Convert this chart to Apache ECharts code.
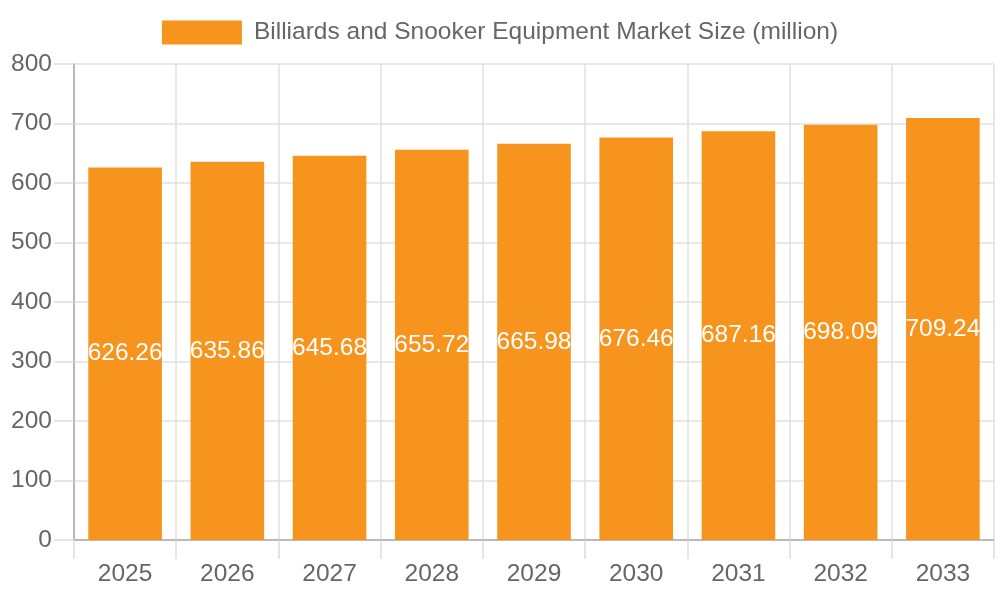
<!DOCTYPE html>
<html><head><meta charset="utf-8">
<script src="https://cdn.jsdelivr.net/npm/echarts@6/dist/echarts.min.js"></script>
<style>html,body{margin:0;padding:0;background:#fff}#c{width:1000px;height:600px}</style>
</head><body><div id="c"></div>
<script>
const categories = ['2025','2026','2027','2028','2029','2030','2031','2032','2033'];
const values = [626.26, 635.86, 645.68, 655.72, 665.98, 676.46, 687.16, 698.09, 709.24];
const seriesName = 'Billiards and Snooker Equipment Market Size (million)';
const chart = echarts.init(document.getElementById('c'));
const font = '"Liberation Sans", Arial, sans-serif';
chart.setOption({
  animation: false,
  textStyle: { fontFamily: font },
  legend: {
    top: 15, left: 'center', itemWidth: 80, itemHeight: 24, itemGap: 10,
    icon: 'rect',
    textStyle: { fontSize: 24.5, color: '#666', fontFamily: font, padding: [0,0,0,7] },
    data: [seriesName]
  },
  grid: { left: 74, right: 6, top: 64, bottom: 60, containLabel: false },
  xAxis: {
    type: 'category', data: categories,
    axisLine: { show: true, lineStyle: { color: '#aaa', width: 1.5 } },
    axisTick: { show: true, interval: 0, length: 19, lineStyle: { color: '#ddd', width: 1.5 } },
    splitLine: { show: true, interval: 0, lineStyle: { color: '#e0e0e0', width: 1.5 } },
    axisLabel: { fontSize: 24.5, color: '#666', margin: 22, fontFamily: font }
  },
  yAxis: {
    type: 'value', min: 0, max: 800, interval: 100,
    axisLine: { show: true, lineStyle: { color: '#aaa', width: 1.5 } },
    axisTick: { show: true, length: 20, lineStyle: { color: '#ddd', width: 1.5 } },
    splitLine: { show: true, lineStyle: { color: '#e0e0e0', width: 1.5 } },
    axisLabel: { fontSize: 24.5, color: '#666', margin: 22, fontFamily: font }
  },
  series: [{
    name: seriesName, type: 'bar', data: values,
    barCategoryGap: '28%',
    itemStyle: { color: '#F7941E' },
    label: { show: true, position: 'inside', color: '#fff', fontSize: 24.5, fontFamily: font,
      formatter: p => p.value.toFixed(2) }
  }]
});
</script></body></html>
